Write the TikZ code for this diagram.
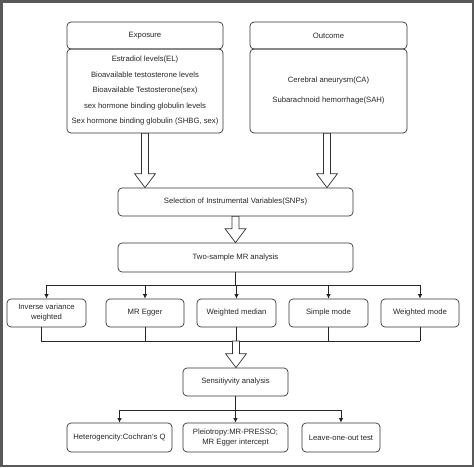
\documentclass[tikz,border=0pt]{standalone}
\usepackage{fontspec}
\setmainfont{Liberation Sans}
\usetikzlibrary{arrows.meta,positioning,calc}
\tikzset{
  box/.style={draw=black!80, line width=0.7pt, rounded corners=4pt, align=center, inner sep=1pt, text=black!85, font=\fontsize{7.7}{10}\selectfont},
  fat/.style={draw=black!80, line width=0.7pt, fill=white, line join=miter},
  link/.style={draw=black!85, line width=0.8pt},
  flow/.style={link, -{Latex[length=4.5pt,width=4.5pt]}}
}
\newcommand{\fatarrow}[2]{%
  \draw[fat] ($(#1)+(-3.5,0)$) -- ($(#2)+(-3.5,-14)$) -- ($(#2)+(-10.5,-14)$) -- (#2)
    -- ($(#2)+(10.5,-14)$) -- ($(#2)+(3.5,-14)$) -- ($(#1)+(3.5,0)$) -- cycle;}

\begin{document}
\begin{tikzpicture}[x=1pt, y=-1pt]
\useasboundingbox (0,0) rectangle (474,467);
\draw[gray!70!black, line width=2.5pt] (1.25,1.25) rectangle (472.75,465.75);

% exposure and outcome
\node[box, minimum width=156pt, minimum height=27pt] (expH) at (145,35.5) {Exposure};
\node[box, minimum width=156pt, minimum height=84pt, font=\fontsize{7.7}{15.5}\selectfont] (expB) at (145,91)
  {Estradiol levels(EL)\\Bioavailable testosterone levels\\Bioavailable Testosterone(sex)\\sex hormone binding globulin levels\\Sex hormone binding globulin (SHBG, sex)};
\node[box, minimum width=157pt, minimum height=27pt] (outH) at (328.5,35.5) {Outcome};
\node[box, minimum width=157pt, minimum height=84pt] (outB) at (328.5,91)
  {Cerebral aneurysm(CA)\\[10pt]Subarachnoid hemorrhage(SAH)};

% main steps
\node[box, minimum width=235pt, minimum height=28pt] (sel) at (235.5,202) {Selection of Instrumental Variables(SNPs)};
\node[box, minimum width=235pt, minimum height=29pt] (two) at (235.5,257.5) {Two-sample MR analysis};

% MR methods
\node[box, minimum width=79pt, minimum height=28pt] (ivw) at (46.5,313) {Inverse variance\\weighted};
\node[box, minimum width=78pt, minimum height=28pt] (egg) at (145,313) {MR Egger};
\node[box, minimum width=79pt, minimum height=28pt] (wmed) at (236.5,313) {Weighted median};
\node[box, minimum width=79pt, minimum height=28pt] (smode) at (328.5,313) {Simple mode};
\node[box, minimum width=78pt, minimum height=28pt] (wmode) at (420,313) {Weighted mode};

% sensitivity
\node[box, minimum width=105pt, minimum height=28pt] (sens) at (235.5,382) {Sensitiyvity analysis};
\node[box, minimum width=105pt, minimum height=29pt] (het) at (119.5,437.5) {Heterogencity:Cochran`s Q};
\node[box, minimum width=105pt, minimum height=29pt] (ple) at (235.5,437.5) {Pleiotropy:MR-PRESSO;\\MR Egger intercept};
\node[box, minimum width=78pt, minimum height=29pt] (loo) at (341,437.5) {Leave-one-out test};

% fat arrows
\coordinate (e1) at (sel.north -| expB.south);
\coordinate (o1) at (sel.north -| 327,0);
\coordinate (o0) at (outB.south -| o1);
\fatarrow{expB.south}{e1}
\fatarrow{o0}{o1}
\fatarrow{sel.south}{two.north}

% split to methods
\coordinate (split) at (236,285);
\draw[link] (two.south) -- (two.south |- split);
\draw[link] (ivw.north |- split) -- (wmode.north |- split);
\foreach \n in {ivw,egg,wmed,smode,wmode}
  \draw[flow] (\n.north |- split) -- (\n.north);

% join from methods
\coordinate (join) at (236,341);
\draw[link] ($(ivw.south |- join)+(-5.5,0)$) -- (wmode.south |- join);
\draw[link] ($(ivw.south)+(-5.5,0)$) -- ($(ivw.south |- join)+(-5.5,0)$);
\foreach \n in {egg,wmed,smode,wmode}
  \draw[link] (\n.south) -- (\n.south |- join);
\coordinate (s1) at (sens.north -| join);
\fatarrow{join}{s1}

% split to tests
\coordinate (split2) at (236,410);
\draw[link] (sens.south) -- (sens.south |- split2);
\draw[link] (het.north |- split2) -- (loo.north |- split2);
\foreach \n in {het,ple,loo}
  \draw[flow] (\n.north |- split2) -- (\n.north);
\end{tikzpicture}
\end{document}
